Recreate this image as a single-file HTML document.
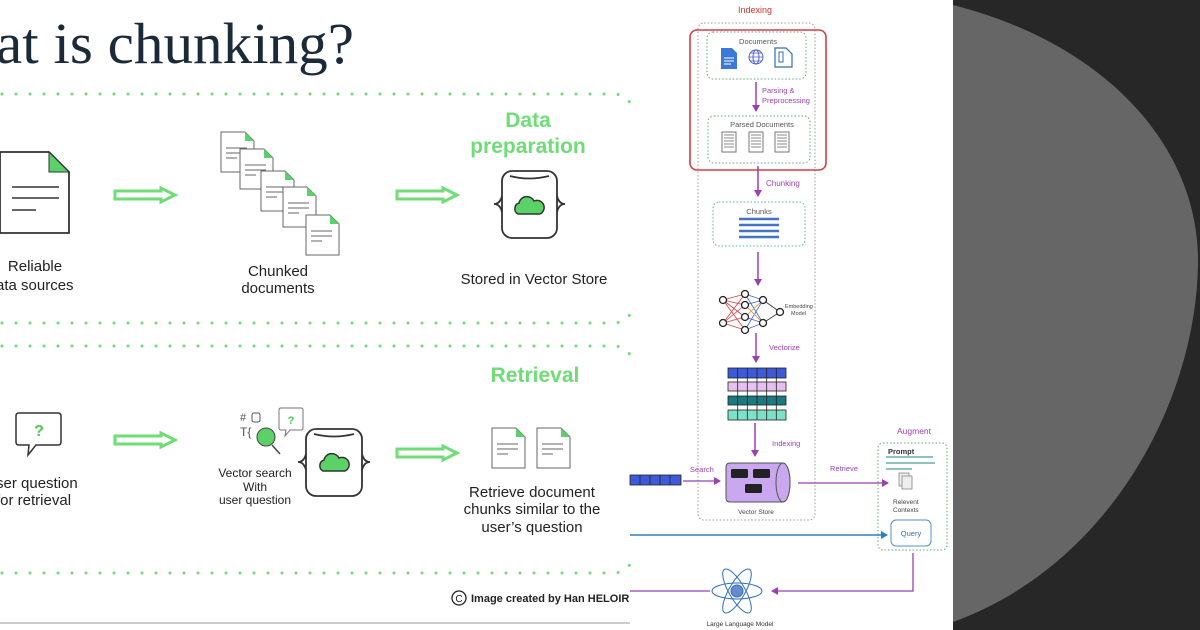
<!DOCTYPE html>
<html><head><meta charset="utf-8"><style>
html,body{margin:0;padding:0;background:#fff;}
svg{display:block;}
text{font-family:"Liberation Sans",sans-serif;}
</style></head><body>
<svg width="1200" height="630" viewBox="0 0 1200 630" xmlns="http://www.w3.org/2000/svg">
<defs>
<marker id="pa" markerWidth="8" markerHeight="8" refX="6" refY="4" orient="auto" markerUnits="userSpaceOnUse"><path d="M0,0 L7,4 L0,8 Z" fill="#9b3fb5"/></marker>
<marker id="ba" markerWidth="8" markerHeight="8" refX="6" refY="4" orient="auto" markerUnits="userSpaceOnUse"><path d="M0,0 L7,4 L0,8 Z" fill="#2f7fc0"/></marker>
<g id="garrow"><path d="M0,3 H46 V0 L60,7 L46,14 V11 H0 Z" fill="#fff" stroke="#6fdc76" stroke-width="3"/></g>
<g id="page"><path d="M0,0 H24 L33,9 V40 H0 Z" fill="#fff" stroke="#666" stroke-width="1"/><path d="M24,0 L33,9 H24 Z" fill="#5bd267"/><path d="M5,16 H26 M5,21 H26 M5,26 H16" stroke="#666" stroke-width="1"/></g>
<g id="cloud"><path d="M-11,6 a6,6 0 0 1 1,-11 a8,8 0 0 1 15,-2 a7,7 0 0 1 6,13 Z" fill="#5bd267" stroke="#333" stroke-width="1.5"/></g>
<g id="gdoc"><rect x="0" y="0" width="14" height="20" fill="#fff" stroke="#777"/><path d="M2,3 H12 M2,6 H12 M2,9 H12 M2,12 H12 M2,15 H12" stroke="#888"/></g>
</defs>
<rect width="1200" height="630" fill="#fff"/>

<!-- LEFT PANEL -->
<text x="-4" y="63" font-family="Liberation Serif, serif" font-size="58" fill="#1b2a38" textLength="358" lengthAdjust="spacingAndGlyphs" style="font-family:'Liberation Serif',serif">at is chunking?</text>

<g fill="none" stroke="#6fdc76" stroke-width="3" stroke-linecap="round" stroke-dasharray="0 14">
<path d="M2,94 H612 Q628,94 630,104"/>
<path d="M2,323 H612 Q628,323 630,313"/>
<path d="M2,346 H612 Q628,346 630,356"/>
<path d="M2,573 H612 Q628,573 630,563"/>
</g>

<!-- doc -->
<path d="M0,152 H49 L69,172 V233 H0 Z" fill="#fff" stroke="#333" stroke-width="1.8"/>
<path d="M49,152 L69,172 H49 Z" fill="#5bd267" stroke="#333" stroke-width="1"/>
<path d="M12,187 H59 M12,198 H59 M12,210 H36" stroke="#333" stroke-width="1.5"/>
<text x="35" y="271" font-size="15" fill="#222" text-anchor="middle">Reliable</text>
<text x="-4" y="290" font-size="15" fill="#222">ata sources</text>

<use href="#garrow" x="115" y="188"/>
<use href="#garrow" x="397" y="188"/>

<use href="#page" x="221" y="132"/>
<use href="#page" x="240" y="149"/>
<use href="#page" x="261" y="171"/>
<use href="#page" x="283" y="187"/>
<use href="#page" x="306" y="215"/>
<text x="278" y="276" font-size="15" fill="#222" text-anchor="middle">Chunked</text>
<text x="278" y="293" font-size="15" fill="#222" text-anchor="middle">documents</text>

<text x="528" y="127" font-size="21" font-weight="bold" fill="#6fdc76" text-anchor="middle">Data</text>
<text x="528" y="153" font-size="21" font-weight="bold" fill="#6fdc76" text-anchor="middle">preparation</text>

<g stroke="#333" stroke-width="1.8" fill="#fff">
<rect x="502" y="171" width="55" height="67" rx="10"/>
<path d="M510,176 Q529,181 549,176" fill="none"/>
<path d="M502,196 Q500,204 494,204 Q500,204 502,212" fill="none"/>
<path d="M557,196 Q559,204 565,204 Q559,204 557,212" fill="none"/>
</g>
<use href="#cloud" x="529" y="208"/>
<text x="534" y="284" font-size="15" fill="#222" text-anchor="middle">Stored in Vector Store</text>

<text x="535" y="382" font-size="21" font-weight="bold" fill="#6fdc76" text-anchor="middle">Retrieval</text>

<!-- question bubble -->
<path d="M19,413 H58 Q61,413 61,416 V442 Q61,445 58,445 H36 L28,455 L29,445 H19 Q16,445 16,442 V416 Q16,413 19,413 Z" fill="#fff" stroke="#333" stroke-width="1.5"/>
<text x="39" y="436" font-size="16" font-weight="bold" fill="#4cc75a" text-anchor="middle">?</text>
<text x="-4" y="488" font-size="15" fill="#222">ser question</text>
<text x="-4" y="505" font-size="15" fill="#222">for retrieval</text>

<use href="#garrow" x="115" y="433"/>

<!-- vector search -->
<text x="240" y="421" font-size="11" fill="#555">#</text>
<rect x="252" y="413" width="8" height="9" rx="2" fill="none" stroke="#555"/>
<text x="240" y="436" font-size="12" fill="#555">T{</text>
<circle cx="266" cy="437" r="9" fill="#5bd267" stroke="#444"/>
<path d="M272,445 L280,454" stroke="#444" stroke-width="1.5"/>
<path d="M281,408 H301 Q303,408 303,410 V428 Q303,430 301,430 H290 L285,436 L286,430 H281 Q279,430 279,428 V410 Q279,408 281,408 Z" fill="#fff" stroke="#777"/>
<text x="291" y="424" font-size="11" font-weight="bold" fill="#4cc75a" text-anchor="middle">?</text>
<text x="255" y="477" font-size="12" fill="#222" text-anchor="middle">Vector search</text>
<text x="255" y="491" font-size="12" fill="#222" text-anchor="middle">With</text>
<text x="255" y="504" font-size="12" fill="#222" text-anchor="middle">user question</text>

<g stroke="#333" stroke-width="1.8" fill="#fff">
<rect x="306" y="429" width="56" height="67" rx="10"/>
<path d="M314,434 Q334,439 354,434" fill="none"/>
<path d="M306,454 Q304,462 298,462 Q304,462 306,470" fill="none"/>
<path d="M362,454 Q364,462 370,462 Q364,462 362,470" fill="none"/>
</g>
<use href="#cloud" x="334" y="465"/>

<use href="#garrow" x="397" y="446"/>

<use href="#page" x="492" y="428"/>
<use href="#page" x="537" y="428"/>
<text x="532" y="497" font-size="15" fill="#222" text-anchor="middle">Retrieve document</text>
<text x="532" y="514" font-size="15" fill="#222" text-anchor="middle">chunks similar to the</text>
<text x="532" y="532" font-size="15" fill="#222" text-anchor="middle">user’s question</text>

<circle cx="459" cy="598" r="7" fill="none" stroke="#222" stroke-width="1.3"/>
<text x="459" y="602" font-size="10" fill="#222" text-anchor="middle">C</text>
<text x="471" y="602" font-size="11" font-weight="bold" fill="#222">Image created by Han HELOIR</text>
<line x1="0" y1="623" x2="630" y2="623" stroke="#ccc" stroke-width="2"/>

<!-- RIGHT DIAGRAM -->
<text x="755" y="13" font-size="9" fill="#d03030" text-anchor="middle">Indexing</text>
<rect x="698" y="23" width="117" height="497" rx="6" fill="none" stroke="#999" stroke-dasharray="1.5 2"/>
<rect x="690" y="30" width="136" height="140" rx="7" fill="none" stroke="#d04048" stroke-width="1.6"/>

<rect x="707" y="32" width="99" height="47" rx="6" fill="none" stroke="#5aa870" stroke-dasharray="1.5 2"/>
<text x="758" y="44" font-size="7.5" fill="#555" text-anchor="middle">Documents</text>
<path d="M721,48 H732 L737,53 V69 H721 Z" fill="#3c78d8"/>
<path d="M724,58 H734 M724,61 H734 M724,64 H731" stroke="#fff"/>
<circle cx="756" cy="57" r="7" fill="none" stroke="#4a5ed0"/>
<ellipse cx="756" cy="57" rx="3" ry="7" fill="none" stroke="#4a5ed0"/>
<path d="M749,57 H763 M750,53 H762 M750,61 H762" stroke="#4a5ed0" stroke-width="0.8"/>
<path d="M775,48 H786 L792,54 V67 H775 Z" fill="none" stroke="#2f6fb0" stroke-width="1.2"/>
<rect x="779" y="52" width="4" height="10" fill="none" stroke="#2f6fb0"/>

<line x1="756" y1="82" x2="756" y2="111" stroke="#9b3fb5" stroke-width="1.5" marker-end="url(#pa)"/>
<text x="762" y="93" font-size="7.5" fill="#9b3fb5">Parsing  &amp;</text>
<text x="762" y="103" font-size="7.5" fill="#9b3fb5">Preprocessing</text>

<rect x="708" y="116" width="102" height="47" rx="6" fill="none" stroke="#5aa870" stroke-dasharray="1.5 2"/>
<text x="762" y="127" font-size="7.5" fill="#555" text-anchor="middle">Parsed Documents</text>
<use href="#gdoc" x="722" y="132"/>
<use href="#gdoc" x="749" y="132"/>
<use href="#gdoc" x="775" y="132"/>

<line x1="758" y1="166" x2="758" y2="196" stroke="#9b3fb5" stroke-width="1.5" marker-end="url(#pa)"/>
<text x="766" y="186" font-size="8" fill="#9b3fb5">Chunking</text>

<rect x="713" y="202" width="92" height="44" rx="6" fill="none" stroke="#5ab0a0" stroke-dasharray="1.5 2"/>
<text x="759" y="214" font-size="7.5" fill="#555" text-anchor="middle">Chunks</text>
<path d="M739,219 H779 M739,225 H779 M739,231 H779 M739,237 H779" stroke="#4472c4" stroke-width="2.6"/>

<line x1="758" y1="252" x2="758" y2="285" stroke="#9b3fb5" stroke-width="1.5" marker-end="url(#pa)"/>

<!-- neural net -->
<g stroke-width="0.8">
<path d="M723,300 L745,294 M723,300 L745,305 M723,300 L745,317 M723,300 L745,330 M723,323 L745,294 M723,323 L745,305 M723,323 L745,317 M723,323 L745,330" stroke="#d04040"/>
<path d="M745,294 L763,300 M745,305 L763,300 M745,317 L763,323 M745,330 L763,323 M745,294 L763,323 M745,330 L763,300" stroke="#4060d0"/>
<path d="M745,305 L763,323 M745,317 L763,300" stroke="#e09030"/>
<path d="M763,300 L780,312 M763,323 L780,312" stroke="#333"/>
</g>
<g fill="#fff" stroke="#222" stroke-width="1.3">
<circle cx="723" cy="300" r="3.5"/><circle cx="723" cy="323" r="3.5"/>
<circle cx="745" cy="294" r="3.5"/><circle cx="745" cy="305" r="3.5"/><circle cx="745" cy="317" r="3.5"/><circle cx="745" cy="330" r="3.5"/>
<circle cx="763" cy="300" r="3.5"/><circle cx="763" cy="323" r="3.5"/>
<circle cx="780" cy="312" r="3.5"/>
</g>
<text x="785" y="308" font-size="5.5" fill="#444">Embedding</text>
<text x="791" y="315" font-size="5.5" fill="#444">Model</text>

<line x1="756" y1="333" x2="756" y2="362" stroke="#9b3fb5" stroke-width="1.5" marker-end="url(#pa)"/>
<text x="769" y="350" font-size="7.5" fill="#9b3fb5">Vectorize</text>

<g stroke="#222" stroke-width="0.8">
<rect x="728" y="368" width="58" height="10" fill="#3d5bd9"/>
<rect x="728" y="382" width="58" height="9" fill="#e6c0f0"/>
<rect x="728" y="396" width="58" height="9" fill="#1a7a80"/>
<rect x="728" y="410" width="58" height="10" fill="#7fe0c8"/>
<path d="M737.7,368 V420 M747.3,368 V420 M757,368 V420 M766.7,368 V420 M776.3,368 V420" stroke="#222"/>
</g>

<line x1="755" y1="423" x2="755" y2="456" stroke="#9b3fb5" stroke-width="1.5" marker-end="url(#pa)"/>
<text x="772" y="446" font-size="7.5" fill="#9b3fb5">Indexing</text>

<!-- vector store cylinder -->
<path d="M730,463 H783 A7,19.5 0 0 1 783,502 H730 Q726,502 726,498 V467 Q726,463 730,463 Z" fill="#c9a8f0" stroke="#555"/>
<ellipse cx="783" cy="482.5" rx="7" ry="19.5" fill="#c9a8f0" stroke="#555"/>
<rect x="731" y="469" width="17" height="9" rx="1.5" fill="#222"/>
<rect x="753" y="469" width="17" height="9" rx="1.5" fill="#222"/>
<rect x="745" y="484" width="17" height="9" rx="1.5" fill="#222"/>
<text x="756" y="514" font-size="6.5" fill="#444" text-anchor="middle">Vector Store</text>

<!-- search -->
<rect x="630" y="475" width="51" height="10" fill="#3d5bd9" stroke="#222" stroke-width="0.8"/>
<path d="M640,475 V485 M650,475 V485 M660,475 V485 M670,475 V485" stroke="#222" stroke-width="0.8"/>
<text x="690" y="472" font-size="7.5" fill="#9b3fb5">Search</text>
<line x1="683" y1="481" x2="720" y2="481" stroke="#9b3fb5" stroke-width="1.2" marker-end="url(#pa)"/>
<line x1="798" y1="483" x2="888" y2="483" stroke="#9b3fb5" stroke-width="1.2" marker-end="url(#pa)"/>
<text x="830" y="471" font-size="7.5" fill="#9b3fb5">Retrieve</text>

<!-- augment -->
<text x="897" y="434" font-size="8.5" fill="#9b3fb5">Augment</text>
<rect x="878" y="443" width="69" height="107" rx="5" fill="none" stroke="#5aa870" stroke-dasharray="1.5 2"/>
<text x="888" y="454" font-size="7.5" font-weight="bold" fill="#333">Prompt</text>
<path d="M886,457 H933 M886,463 H935 M886,469 H912" stroke="#1a8a8a" stroke-width="1"/>
<rect x="899" y="473" width="10" height="13" fill="#eee" stroke="#777" stroke-width="0.7"/>
<rect x="902" y="476" width="10" height="13" fill="#eee" stroke="#777" stroke-width="0.7"/>
<text x="893" y="504" font-size="6.5" fill="#444">Relevent</text>
<text x="893" y="512" font-size="6.5" fill="#444">Contexts</text>
<rect x="891" y="520" width="40" height="26" rx="5" fill="#fff" stroke="#5090c8"/>
<text x="911" y="536" font-size="7.5" fill="#2f6fb0" text-anchor="middle">Query</text>
<line x1="630" y1="535" x2="887" y2="535" stroke="#2f7fc0" stroke-width="1.6" marker-end="url(#ba)"/>

<!-- LLM -->
<path d="M913,553 V591 H772" fill="none" stroke="#9b3fb5" stroke-width="1.3" marker-end="url(#pa)"/>
<line x1="630" y1="591" x2="710" y2="591" stroke="#9b3fb5" stroke-width="1.3"/>
<g fill="none" stroke="#2f70c0" stroke-width="1">
<ellipse cx="737" cy="591" rx="25" ry="8"/>
<ellipse cx="737" cy="591" rx="25" ry="8" transform="rotate(60 737 591)"/>
<ellipse cx="737" cy="591" rx="25" ry="8" transform="rotate(-60 737 591)"/>
<circle cx="737" cy="591" r="6" fill="#6a8ad0"/>
</g>
<text x="740" y="626" font-size="6.5" fill="#333" text-anchor="middle">Large Language Model</text>

<!-- dark panel -->
<rect x="953" y="0" width="247" height="630" fill="#272727"/>
<path d="M953,5 C1110,45 1199,150 1198,262 C1197,400 1110,565 953,622 Z" fill="#666"/>
</svg>
</body></html>
